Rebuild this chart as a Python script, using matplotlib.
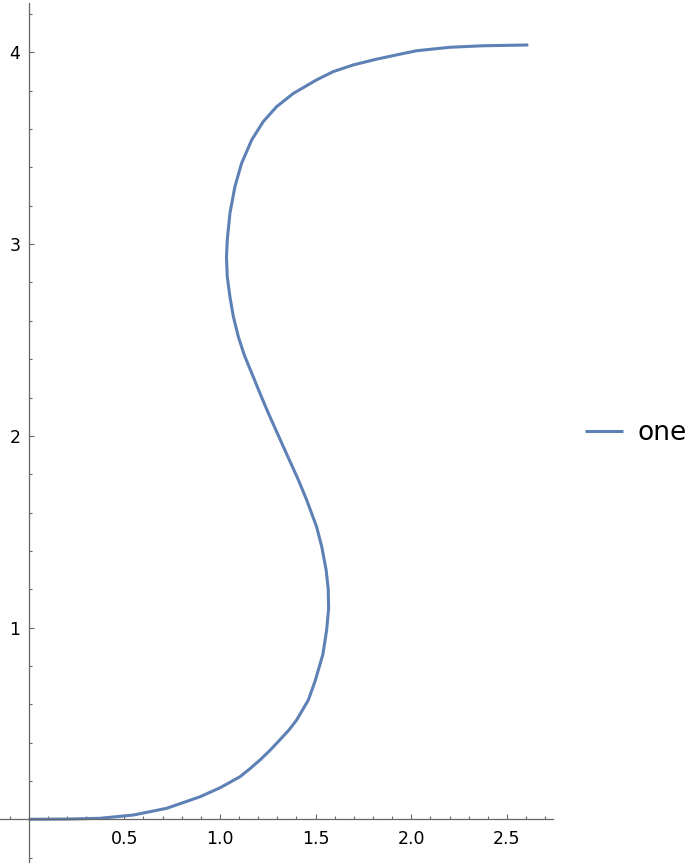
import matplotlib
matplotlib.use("Agg")
import matplotlib.pyplot as plt
from matplotlib.ticker import MultipleLocator, FixedLocator

# curve points (x, y), ordered along the curve
curve_x = [0.0, 0.2, 0.373, 0.547, 0.721, 0.895, 1.0, 1.105, 1.157, 1.209,
           1.262, 1.313, 1.36, 1.401, 1.462, 1.497, 1.538, 1.558, 1.568,
           1.566, 1.555, 1.532, 1.505, 1.479, 1.453, 1.41, 1.331, 1.253,
           1.209, 1.166, 1.127, 1.096, 1.07, 1.052, 1.038, 1.034, 1.038,
           1.052, 1.078, 1.113, 1.166, 1.226, 1.296, 1.383, 1.505, 1.592,
           1.697, 1.819, 1.941, 2.028, 2.202, 2.376, 2.612]
curve_y = [0.0, 0.001, 0.005, 0.022, 0.057, 0.117, 0.164, 0.222, 0.264,
           0.309, 0.36, 0.414, 0.465, 0.518, 0.622, 0.72, 0.86, 0.99, 1.1,
           1.2, 1.3, 1.422, 1.526, 1.596, 1.666, 1.77, 1.944, 2.118, 2.222,
           2.327, 2.422, 2.517, 2.622, 2.726, 2.831, 2.93, 3.022, 3.161,
           3.3, 3.422, 3.544, 3.639, 3.717, 3.786, 3.857, 3.9, 3.935, 3.965,
           3.991, 4.009, 4.027, 4.035, 4.039]
series_name = "one"

x_ticks = [0.5, 1.0, 1.5, 2.0, 2.5]
y_ticks = [1, 2, 3, 4]

line_color = "#5E81B5"
axis_color = "#666666"

fig = plt.figure(figsize=(6.96, 8.66), dpi=100)
ax = fig.add_axes([0.0, 4 / 866, 553 / 696, 859 / 866])

ax.plot(curve_x, curve_y, color=line_color, lw=2.2, label=series_name,
        solid_joinstyle="round", solid_capstyle="butt")

ax.set_xlim(-0.150, 2.741)
ax.set_ylim(-0.223, 4.258)

# Mathematica-like axes crossing at the origin
for side in ["top", "right"]:
    ax.spines[side].set_visible(False)
ax.spines["left"].set_position(("data", 0))
ax.spines["bottom"].set_position(("data", 0))
for side in ["left", "bottom"]:
    ax.spines[side].set_color(axis_color)
    ax.spines[side].set_linewidth(0.9)

ax.xaxis.set_major_locator(FixedLocator(x_ticks))
ax.yaxis.set_major_locator(FixedLocator(y_ticks))
ax.xaxis.set_minor_locator(MultipleLocator(0.1))
ax.yaxis.set_minor_locator(MultipleLocator(0.2))
ax.set_xticklabels([f"{v:.1f}" for v in x_ticks])
ax.set_yticklabels([str(v) for v in y_ticks])

ax.tick_params(which="both", direction="in", color=axis_color, width=0.8,
               labelsize=12.5, labelcolor="black")
ax.tick_params(which="major", length=3.6)
ax.tick_params(which="minor", length=2.2)
ax.tick_params(axis="x", which="major", pad=8)
ax.tick_params(axis="y", which="major", pad=6)

fig.legend(loc="center left", bbox_to_anchor=(585 / 696, 0.5), frameon=False,
           fontsize=19, borderpad=0, borderaxespad=0, handlelength=1.44,
           handletextpad=0.55)

fig.savefig("out.png", dpi=100)
